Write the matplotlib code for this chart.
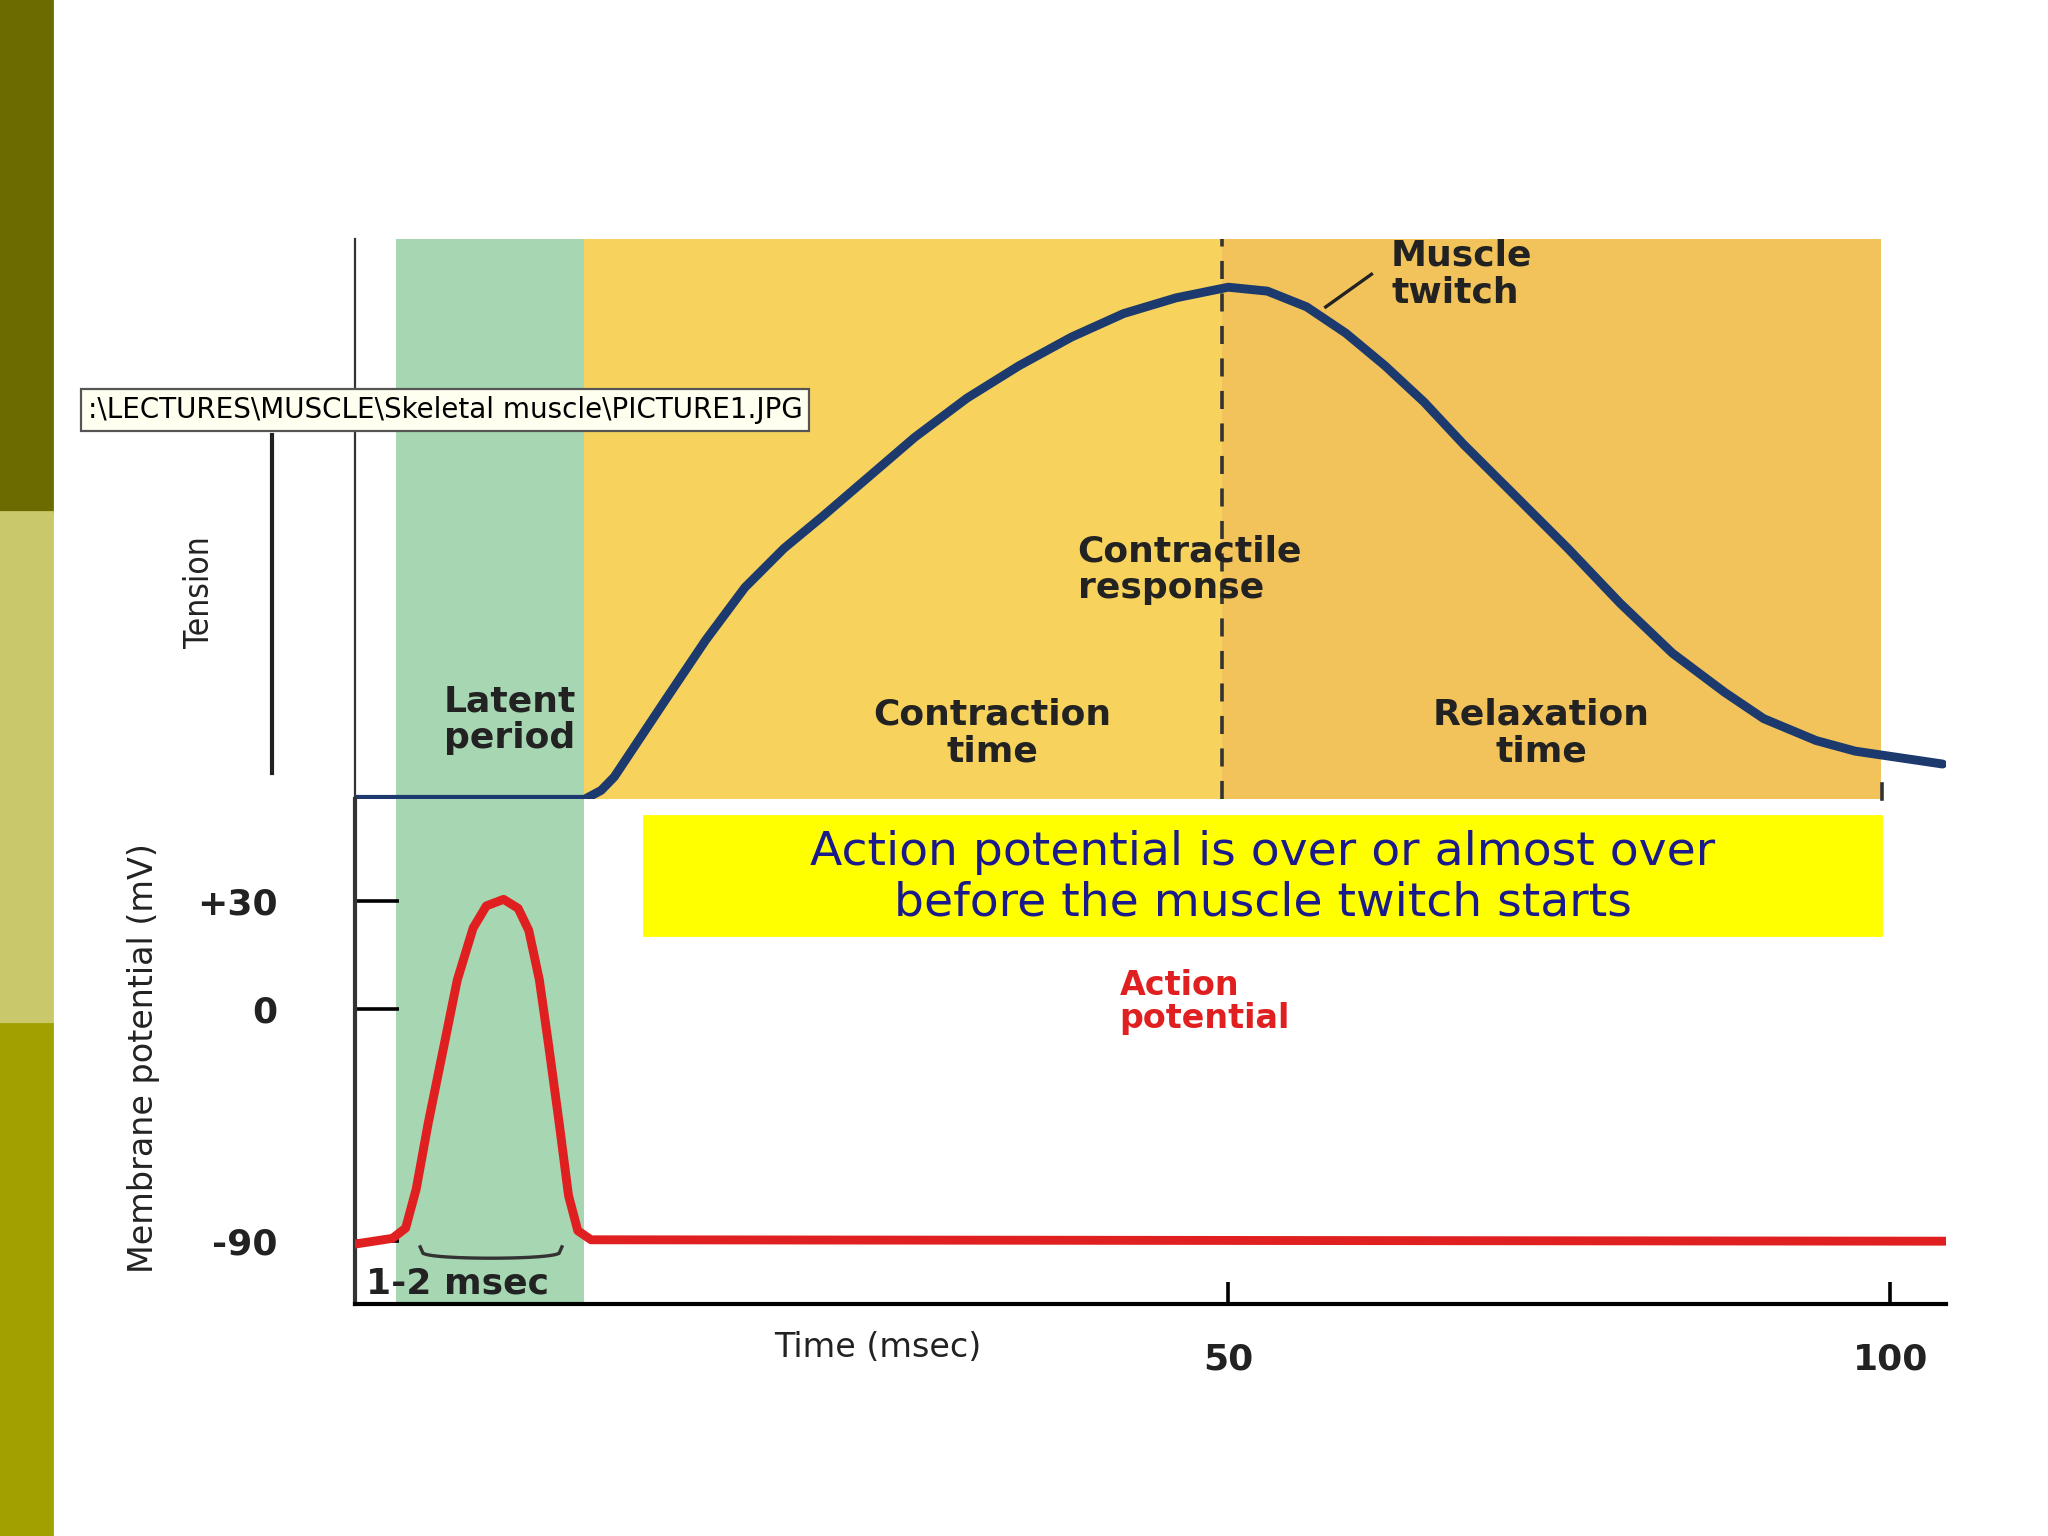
import numpy as np
import matplotlib.pyplot as plt

# data (time in ms, tension relative, potential in mV)
twitch_t = [-15.9, 1.4, 2.66, 3.65, 5.62, 7.59, 10.55, 13.51, 16.47, 19.43, 22.88,
            26.33, 30.28, 34.22, 38.17, 42.11, 46.06, 50.0, 52.96, 55.92, 58.88,
            61.83, 64.79, 67.75, 71.70, 75.64, 79.59, 83.53, 87.48, 90.43, 94.38,
            97.34, 103.94]
twitch_f = [0.0, 0.0, 0.016, 0.040, 0.110, 0.180, 0.284, 0.378, 0.448, 0.506, 0.576,
            0.646, 0.716, 0.774, 0.825, 0.867, 0.895, 0.914, 0.907, 0.879, 0.832,
            0.774, 0.709, 0.634, 0.541, 0.448, 0.350, 0.261, 0.191, 0.144, 0.105,
            0.086, 0.063]
ap_t = [-15.9, -13.1, -12.1, -11.3, -10.4, -9.2, -8.2, -7.0, -6.0, -4.7, -3.6, -2.8,
        -2.0, -1.3, -0.5, 0.2, 0.9, 1.9, 104.2]
ap_v = [-91, -89, -85.4, -71.6, -48.5, -20.9, 2.2, 20.6, 28.4, 30.7, 27.5, 19.7,
        2.2, -20.9, -48.5, -73.9, -86.3, -89.5, -90]
mv_ticks = [30, -8, -90]
mv_labels = ["+30", "0", "-90"]
time_ticks = [50, 100]

W, H = 1568, 1176  # layout reference grid


def f(x, y):
    return x / W, 1 - y / H


fig = plt.figure(figsize=(10.24, 7.68), dpi=200)
fig.patch.set_facecolor("white")

# side stripes
for y0, y1, c in [(0, 392, "#6b6b00"), (392, 784, "#c9c96b"), (784, 1176, "#a0a000")]:
    fig.patches.append(plt.Rectangle(f(0, y1), 40 / W, (y1 - y0) / H,
                                     transform=fig.transFigure, color=c, zorder=0))

xl = (-15.9, 104.2)
l, _ = f(272, 0)
r, _ = f(1490, 0)
_, top = f(0, 183)
_, mid = f(0, 612)
_, bot = f(0, 998)

ax1 = fig.add_axes([l, mid, r - l, top - mid])
ax2 = fig.add_axes([l, bot, r - l, mid - bot])

green, yel, ora = "#a6d6b2", "#f7d35e", "#f2c35a"
for ax in (ax1, ax2):
    ax.set_xlim(*xl)
    ax.axvspan(-12.8, 1.4, color=green, lw=0, zorder=0)
    for s in ["top", "right"]:
        ax.spines[s].set_visible(False)
    ax.spines["left"].set_color("#333333")
ax1.axvspan(1.4, 49.5, color=yel, lw=0, zorder=0)
ax1.axvspan(49.5, 99.3, color=ora, lw=0, zorder=0)
ax1.axvline(49.5, color="#333333", ls=(0, (5, 4)), lw=1.3)
ax1.set_ylim(0, 1)
ax1.plot(twitch_t, twitch_f, color="#1c3a6e", lw=3.2, zorder=3,
         solid_joinstyle="round", solid_capstyle="round")
ax1.spines["bottom"].set_visible(False)
ax1.set_xticks([])
ax1.set_yticks([])

ax2.set_ylim(-112, 66)
ax2.plot(ap_t, ap_v, color="#e02020", lw=3.2, zorder=3, solid_joinstyle="round")
ax2.set_yticks(mv_ticks)
ax2.set_yticklabels(mv_labels, fontsize=13, fontweight="bold", color="#222222")
ax2.tick_params(axis="y", direction="in", length=16, width=1.3, pad=28)
ax2.set_xticks(time_ticks)
ax2.set_xticklabels([str(t) for t in time_ticks], fontsize=13, fontweight="bold",
                    color="#222222")
ax2.tick_params(axis="x", direction="in", length=8, width=1.3, pad=14)
ax2.spines["bottom"].set_linewidth(1.5)
ax2.spines["left"].set_linewidth(1.5)

# brace under action potential
bt = np.linspace(-11.0, -0.3, 50)
ax2.plot(bt, -92 - 4 * np.abs(np.sin(np.pi * (bt + 11.0) / 10.7)) ** 0.2,
         color="#333333", lw=1.2, zorder=4)

bold = dict(fontweight="bold", color="#222222", fontsize=13, linespacing=1.1)
fig.text(*f(1065, 210), "Muscle\ntwitch", va="center", **bold)
fig.lines.append(plt.Line2D([1015 / W, 1050 / W], [1 - 235 / H, 1 - 210 / H],
                            transform=fig.transFigure, color="#222222", lw=1.2))
fig.text(*f(825, 436), "Contractile\nresponse", va="center", **bold)
fig.text(*f(760, 561), "Contraction\ntime", ha="center", va="center", **bold)
fig.text(*f(1180, 561), "Relaxation\ntime", ha="center", va="center", **bold)
fig.text(*f(390, 551), "Latent\nperiod", ha="center", va="center", **bold)
fig.text(*f(857, 767), "Action\npotential", va="center", fontweight="bold",
         color="#e02020", fontsize=12, linespacing=1.0)
fig.text(*f(280, 983), "1-2 msec", va="center", **bold)
fig.text(*f(672, 1032), "Time (msec)", ha="center", va="center", fontsize=12,
         color="#222222")
fig.text(*f(153, 453), "Tension", rotation=90, ha="center", va="center", fontsize=12,
         fontstretch="condensed", color="#222222")
fig.lines.append(plt.Line2D([208 / W, 208 / W], [1 - 333 / H, 1 - 592 / H],
                            transform=fig.transFigure, color="#222222", lw=1.5))
fig.lines.append(plt.Line2D([1441 / W, 1441 / W], [1 - 600 / H, 1 - 612 / H],
                            transform=fig.transFigure, color="#333333", lw=1.3))
fig.text(*f(110, 810), "Membrane potential (mV)", rotation=90, ha="center",
         va="center", fontsize=12, color="#222222")

# yellow note box
fig.patches.append(plt.Rectangle(f(493, 716), (1440 - 493) / W, (716 - 625) / H,
                                 transform=fig.transFigure, color="#ffff00", zorder=5))
fig.text(*f(967, 672), "Action potential is over or almost over\nbefore the muscle twitch starts",
         ha="center", va="center", fontsize=17, color="#1a1a8c", zorder=6,
         linespacing=1.15)

# file path tooltip
fig.text(*f(67, 314), ":\\LECTURES\\MUSCLE\\Skeletal muscle\\PICTURE1.JPG",
         va="center", fontsize=10, color="black", zorder=7,
         bbox=dict(boxstyle="square,pad=0.25", fc="#fffff0", ec="#555555", lw=0.8))

fig.savefig("out.png", dpi=200)
